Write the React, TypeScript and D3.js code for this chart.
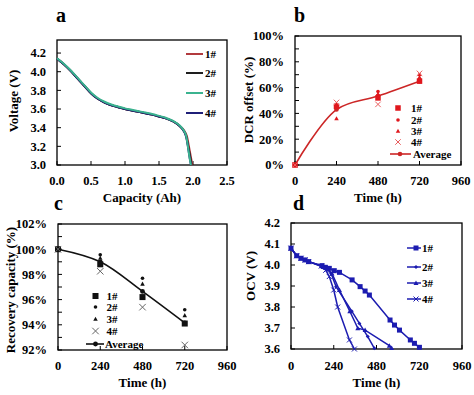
import React from 'react';
import * as d3 from 'd3';

const FONT = "'Liberation Serif', 'DejaVu Serif', 'Times New Roman', Times, serif";

// ---------- Panel a data ----------
const aNames = ['1#', '2#', '3#', '4#'];
const aColors = ['#b23a3e', '#1e1e1e', '#3bb38f', '#1f1f78'];
const aXTicks = [0, 0.5, 1.0, 1.5, 2.0, 2.5];
const aYTicks = [3.0, 3.2, 3.4, 3.6, 3.8, 4.0, 4.2];
const aCurve1: [number, number][] = [[0, 4.14], [0.1, 4.08], [0.2, 4.01], [0.3, 3.93], [0.4, 3.85], [0.5, 3.77], [0.6, 3.71], [0.7, 3.67], [0.8, 3.64], [0.9, 3.62], [1.0, 3.6], [1.1, 3.585], [1.2, 3.57], [1.3, 3.555], [1.4, 3.54], [1.5, 3.52], [1.6, 3.5], [1.7, 3.47], [1.8, 3.42], [1.87, 3.37], [1.91, 3.31], [1.94, 3.2], [1.97, 3.08], [1.99, 3.0]];
const aCurve2: [number, number][] = [[0, 4.14], [0.1, 4.08], [0.2, 4.01], [0.3, 3.93], [0.4, 3.85], [0.5, 3.77], [0.6, 3.71], [0.7, 3.67], [0.8, 3.64], [0.9, 3.62], [1.0, 3.6], [1.1, 3.585], [1.2, 3.57], [1.3, 3.555], [1.4, 3.54], [1.5, 3.52], [1.6, 3.5], [1.7, 3.47], [1.8, 3.42], [1.86, 3.37], [1.9, 3.31], [1.93, 3.2], [1.96, 3.08], [1.98, 3.0]];
const aCurve3: [number, number][] = [[0, 4.145], [0.1, 4.085], [0.2, 4.015], [0.3, 3.936], [0.4, 3.857], [0.5, 3.778], [0.6, 3.718], [0.7, 3.678], [0.8, 3.648], [0.9, 3.627], [1.0, 3.607], [1.1, 3.592], [1.2, 3.577], [1.3, 3.562], [1.4, 3.547], [1.5, 3.527], [1.6, 3.506], [1.7, 3.476], [1.8, 3.426], [1.86, 3.375], [1.9, 3.31], [1.925, 3.2], [1.95, 3.08], [1.97, 3.0]];
const aCurve4: [number, number][] = [[0, 4.14], [0.1, 4.08], [0.2, 4.01], [0.3, 3.93], [0.4, 3.85], [0.5, 3.77], [0.6, 3.71], [0.7, 3.67], [0.8, 3.64], [0.9, 3.62], [1.0, 3.6], [1.1, 3.585], [1.2, 3.57], [1.3, 3.555], [1.4, 3.54], [1.5, 3.52], [1.6, 3.5], [1.7, 3.47], [1.8, 3.42], [1.86, 3.37], [1.9, 3.3], [1.925, 3.2], [1.95, 3.08], [1.97, 3.0]];
const aCurves = [aCurve1, aCurve2, aCurve3, aCurve4];

// ---------- Panel b data ----------
const bTime = [0, 240, 480, 720];
const b1 = [0, 45.5, 52, 65];
const b2 = [0, 47, 57, 70];
const b3 = [0, 36, 55, 68];
const b4 = [0, 48.5, 47, 71];
const bAvg = [0, 43, 53.5, 65];
const bXTicks = [0, 240, 480, 720, 960];
const bYTicks = [0, 20, 40, 60, 80, 100];
const bYMinor = [10, 30, 50, 70, 90];

// ---------- Panel c data ----------
const cTime = [0, 240, 480, 720];
const c1 = [100, 98.8, 96.2, 94.1];
const c2 = [100, 99.55, 97.7, 95.2];
const c3 = [100, 99.3, 97.25, 94.75];
const c4 = [100, 98.25, 95.4, 92.4];
const cAvg = [100, 99.0, 96.65, 94.15];
const cXTicks = [0, 240, 480, 720, 960];
const cYTicks = [92, 94, 96, 98, 100, 102];
const cYMinor = [93, 95, 97, 99, 101];

// ---------- Panel d data ----------
const dTime1 = [0, 32, 56, 79, 99, 174, 193, 215, 243, 272, 343, 388, 416, 440, 556, 581, 609, 670, 693, 721];
const dV1 = [4.08, 4.044, 4.032, 4.024, 4.016, 3.997, 3.989, 3.984, 3.973, 3.965, 3.929, 3.897, 3.876, 3.857, 3.738, 3.714, 3.69, 3.643, 3.627, 3.608];
const dTime2 = [0, 32, 56, 79, 99, 175, 200, 225, 253, 341, 384, 431, 468];
const dV2 = [4.08, 4.044, 4.032, 4.024, 4.016, 3.995, 3.985, 3.96, 3.897, 3.78, 3.722, 3.659, 3.603];
const dTime3 = [0, 32, 56, 79, 99, 180, 205, 230, 272, 330, 375, 416, 552, 565];
const dV3 = [4.08, 4.044, 4.032, 4.024, 4.016, 3.99, 3.98, 3.96, 3.881, 3.78, 3.699, 3.69, 3.616, 3.605];
const dTime4 = [0, 32, 56, 79, 99, 170, 195, 215, 240, 262, 328, 356];
const dV4 = [4.08, 4.044, 4.032, 4.024, 4.016, 3.995, 3.975, 3.945, 3.881, 3.8, 3.643, 3.6];
const dXTicks = [0, 240, 480, 720, 960];
const dYTicks = [3.6, 3.7, 3.8, 3.9, 4.0, 4.1, 4.2];

type Box = { l: number; r: number; t: number; b: number };

const txt = (size: number) => ({ fontFamily: FONT, fontWeight: 700, fontSize: size + 'px' });

function Marker({ type, x, y, color, size }: { type: string; x: number; y: number; color: string; size: number }) {
  const h = size / 2;
  if (type === 'square') return <rect x={x - h} y={y - h} width={size} height={size} fill={color} />;
  if (type === 'dot') return <circle cx={x} cy={y} r={h} fill={color} />;
  if (type === 'diamond') return <path d={`M${x},${y - h}L${x + h},${y}L${x},${y + h}L${x - h},${y}Z`} fill={color} />;
  if (type === 'triangle') return <path d={`M${x},${y - h}L${x + h},${y + h * 0.8}L${x - h},${y + h * 0.8}Z`} fill={color} />;
  if (type === 'cross')
    return (
      <path d={`M${x - h},${y - h}L${x + h},${y + h}M${x - h},${y + h}L${x + h},${y - h}`} stroke={color} strokeWidth={1} fill="none" />
    );
  return null;
}

function Frame({
  box, x, y, xTicks, yTicks, yMinor = [], xFmt, yFmt, xLabel, yLabel, yLabelX, yLabelY, xTickBase, xLabelBase, title, titleX, titleY,
}: any) {
  return (
    <g>
      <rect x={box.l} y={box.t} width={box.r - box.l} height={box.b - box.t} fill="none" stroke="#000" strokeWidth={1.3} />
      {xTicks.map((t: number) => (
        <g key={'x' + t}>
          <line x1={x(t)} x2={x(t)} y1={box.b} y2={box.b - 4} stroke="#000" strokeWidth={1} />
          <text x={x(t)} y={xTickBase} textAnchor="middle" style={txt(12.5)}>
            {xFmt(t)}
          </text>
        </g>
      ))}
      {yTicks.map((t: number) => (
        <g key={'y' + t}>
          <line x1={box.l} x2={box.l + 4} y1={y(t)} y2={y(t)} stroke="#000" strokeWidth={1} />
          <text x={box.l - 11} y={y(t) + 4.3} textAnchor="end" style={txt(12.5)}>
            {yFmt(t)}
          </text>
        </g>
      ))}
      {yMinor.map((t: number) => (
        <line key={'m' + t} x1={box.l} x2={box.l + 4} y1={y(t)} y2={y(t)} stroke="#000" strokeWidth={1} />
      ))}
      <text x={(box.l + box.r) / 2} y={xLabelBase} textAnchor="middle" style={txt(13)}>
        {xLabel}
      </text>
      <text transform={`translate(${yLabelX},${yLabelY}) rotate(-90)`} textAnchor="middle" style={txt(13)}>
        {yLabel}
      </text>
      <text x={titleX} y={titleY} style={txt(20)}>
        {title}
      </text>
    </g>
  );
}

function PanelA() {
  const box: Box = { l: 57, r: 227, t: 40, b: 165 };
  const x = d3.scaleLinear().domain([0, 2.5]).range([box.l, box.r]);
  const y = d3.scaleLinear().domain([3.0, 4.34]).range([box.b, box.t]);
  const line = d3.line<[number, number]>().x((d) => x(d[0])).y((d) => y(d[1])).curve(d3.curveMonotoneX);
  const legY = [54, 73, 93, 113];
  return (
    <g>
      <Frame box={box} x={x} y={y} xTicks={aXTicks} yTicks={aYTicks} xFmt={d3.format('.1f')} yFmt={d3.format('.1f')}
        xLabel="Capacity (Ah)" yLabel="Voltage (V)" yLabelX={18} yLabelY={101} xTickBase={185} xLabelBase={202}
        title="a" titleX={56} titleY={22} />
      {[0, 1, 3, 2].map((i) => (
        <path key={i} d={line(aCurves[i]) || ''} fill="none" stroke={aColors[i]} strokeWidth={2} />
      ))}
      {aNames.map((n, i) => (
        <g key={n}>
          <line x1={186} x2={203} y1={legY[i]} y2={legY[i]} stroke={aColors[i]} strokeWidth={2} />
          <text x={205} y={legY[i] + 4} style={txt(11)}>{n}</text>
        </g>
      ))}
    </g>
  );
}

function PanelB() {
  const box: Box = { l: 295, r: 461, t: 36, b: 165 };
  const x = d3.scaleLinear().domain([0, 960]).range([box.l, box.r]);
  const y = d3.scaleLinear().domain([0, 100]).range([box.b, box.t]);
  const line = d3.line<number>().x((_, i) => x(bTime[i])).y((d) => y(d)).curve(d3.curveCatmullRom.alpha(0.5));
  const red = '#e0171d';
  const dark = '#cc2626';
  const series = [
    { v: b1, m: 'square', s: 5.5, n: '1#' },
    { v: b2, m: 'dot', s: 3.6, n: '2#' },
    { v: b3, m: 'triangle', s: 4.5, n: '3#' },
    { v: b4, m: 'cross', s: 5.5, n: '4#' },
  ];
  const legY = [108, 120, 131, 142];
  return (
    <g>
      <Frame box={box} x={x} y={y} xTicks={bXTicks} yTicks={bYTicks} yMinor={bYMinor} xFmt={(t: number) => String(t)}
        yFmt={(t: number) => t + '%'} xLabel="Time (h)" yLabel="DCR offset (%)" yLabelX={253} yLabelY={100}
        xTickBase={185} xLabelBase={202} title="b" titleX={294} titleY={22} />
      <path d={line(bAvg) || ''} fill="none" stroke={dark} strokeWidth={1.6} />
      {bAvg.map((v, i) => (
        <circle key={'a' + i} cx={x(bTime[i])} cy={y(v)} r={2.3} fill={dark} />
      ))}
      {series.map((s) =>
        s.v.map((v, i) => <Marker key={s.n + i} type={s.m} x={x(bTime[i])} y={y(v)} color={s.m === 'cross' ? '#e86060' : red} size={s.s} />)
      )}
      {series.map((s, i) => (
        <g key={'l' + s.n}>
          <Marker type={s.m} x={398} y={legY[i]} color={s.m === 'cross' ? '#e86060' : red} size={s.s} />
          <text x={411} y={legY[i] + 4} style={txt(11)}>{s.n}</text>
        </g>
      ))}
      <line x1={390} x2={411} y1={154} y2={154} stroke={dark} strokeWidth={1.6} />
      <circle cx={400} cy={154} r={2.3} fill={dark} />
      <text x={413} y={158} style={txt(11)}>Average</text>
    </g>
  );
}

function PanelC() {
  const box: Box = { l: 58, r: 227, t: 224, b: 350 };
  const x = d3.scaleLinear().domain([0, 960]).range([box.l, box.r]);
  const y = d3.scaleLinear().domain([92, 102]).range([box.b, box.t]);
  const line = d3.line<number>().x((_, i) => x(cTime[i])).y((d) => y(d)).curve(d3.curveCatmullRom.alpha(0.5));
  const series = [
    { v: c1, m: 'square', s: 6, n: '1#', c: '#111' },
    { v: c2, m: 'dot', s: 3.6, n: '2#', c: '#111' },
    { v: c3, m: 'triangle', s: 4.5, n: '3#', c: '#111' },
    { v: c4, m: 'cross', s: 6.5, n: '4#', c: '#666' },
  ];
  const legY = [296, 307, 319, 331];
  return (
    <g>
      <Frame box={box} x={x} y={y} xTicks={cXTicks} yTicks={cYTicks} yMinor={cYMinor} xFmt={(t: number) => String(t)}
        yFmt={(t: number) => t + '%'} xLabel="Time (h)" yLabel="Recovery capacity (%)" yLabelX={15} yLabelY={290}
        xTickBase={370} xLabelBase={387} title="c" titleX={54} titleY={210} />
      <path d={line(cAvg) || ''} fill="none" stroke="#111" strokeWidth={1.6} />
      {cAvg.map((v, i) => (
        <circle key={'a' + i} cx={x(cTime[i])} cy={y(v)} r={2.4} fill="#111" />
      ))}
      {series.map((s) =>
        s.v.map((v, i) => <Marker key={s.n + i} type={s.m} x={x(cTime[i])} y={y(v)} color={s.c} size={s.s} />)
      )}
      {series.map((s, i) => (
        <g key={'l' + s.n}>
          <Marker type={s.m} x={95.5} y={legY[i]} color={s.c} size={s.s} />
          <text x={106.5} y={legY[i] + 4} style={txt(11)}>{s.n}</text>
        </g>
      ))}
      <line x1={86} x2={104} y1={344} y2={344} stroke="#111" strokeWidth={1.6} />
      <circle cx={95.5} cy={344} r={2.4} fill="#111" />
      <text x={105} y={348} style={txt(11)}>Average</text>
    </g>
  );
}

function PanelD() {
  const box: Box = { l: 291, r: 462, t: 223, b: 349 };
  const x = d3.scaleLinear().domain([0, 960]).range([box.l, box.r]);
  const y = d3.scaleLinear().domain([3.6, 4.2]).range([box.b, box.t]);
  const blue = '#1c1cb0';
  const series = [
    { t: dTime1, v: dV1, m: 'square', s: 5, n: '1#' },
    { t: dTime2, v: dV2, m: 'diamond', s: 4, n: '2#' },
    { t: dTime3, v: dV3, m: 'triangle', s: 5, n: '3#' },
    { t: dTime4, v: dV4, m: 'cross', s: 5, n: '4#' },
  ];
  const legY = [248, 267, 283, 299];
  return (
    <g>
      <Frame box={box} x={x} y={y} xTicks={dXTicks} yTicks={dYTicks} xFmt={(t: number) => String(t)}
        yFmt={d3.format('.1f')} xLabel="Time (h)" yLabel="OCV (V)" yLabelX={255} yLabelY={276}
        xTickBase={370} xLabelBase={387} title="d" titleX={293} titleY={210} />
      {series.map((s) => {
        const pts: [number, number][] = s.t.map((t, i) => [x(t), y(s.v[i])]);
        return (
          <g key={s.n}>
            <path d={d3.line()(pts) || ''} fill="none" stroke={blue} strokeWidth={1.5} />
            {pts.map((p, i) => (
              <Marker key={i} type={s.m} x={p[0]} y={p[1]} color={blue} size={s.s} />
            ))}
          </g>
        );
      })}
      {series.map((s, i) => (
        <g key={'l' + s.n}>
          <line x1={407} x2={421} y1={legY[i]} y2={legY[i]} stroke={blue} strokeWidth={1.5} />
          <Marker type={s.m} x={416} y={legY[i]} color={blue} size={s.s} />
          <text x={422} y={legY[i] + 4} style={txt(11)}>{s.n}</text>
        </g>
      ))}
    </g>
  );
}

export default function App() {
  return (
    <svg width={474} height={395} style={{ position: 'absolute', left: 0, top: 0, background: '#fff' }}>
      <rect width={474} height={395} fill="#fff" />
      <PanelA />
      <PanelB />
      <PanelC />
      <PanelD />
    </svg>
  );
}
